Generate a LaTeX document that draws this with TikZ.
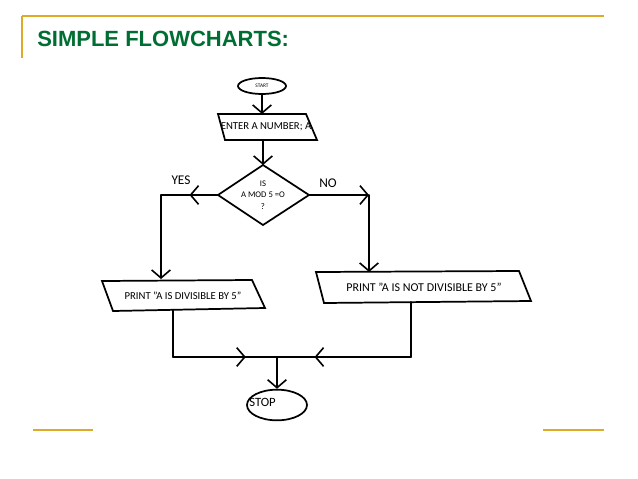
\documentclass[tikz,border=0pt]{standalone}
\usepackage{fontspec}
\setmainfont{Carlito}
\newfontfamily\titlefont{Liberation Sans}
\usetikzlibrary{arrows.meta,shapes.geometric,decorations.markings}
\definecolor{gold}{RGB}{222,170,40}
\definecolor{tgreen}{RGB}{0,110,50}
\begin{document}
\begin{tikzpicture}[x=0.75pt,y=-0.75pt,
  ln/.style={line width=1.3pt,line cap=round},
  tip/.style={-{Straight Barb[length=6pt,width=14pt,line width=1.2pt]}},
  midtip/.style={postaction={decorate},decoration={markings,mark=at position #1 with {\arrow{Straight Barb[length=6pt,width=14pt,line width=1.2pt]}}}},
  box/.style={ln,fill=white},
  txt/.style={font=\fontsize{8}{9}\selectfont,inner sep=0pt}]
\useasboundingbox (0,0) rectangle (638,478);
\fill[white] (0,0) rectangle (638,478);
% decorations
\draw[gold,line width=1pt] (22,16) -- (604,16);
\draw[gold,line width=1pt] (22,16) -- (22,58);
\draw[gold,line width=1pt] (33,430) -- (93,430);
\draw[gold,line width=1pt] (543,430) -- (604,430);
\node[anchor=west,text=tgreen,font=\titlefont\bfseries\fontsize{16.5}{18}\selectfont,inner sep=0pt] (title) at (37,39) {SIMPLE FLOWCHARTS:};
% start
\node[ellipse,draw,ln,minimum width=36pt,minimum height=12pt,inner sep=0pt,font=\fontsize{4}{5}\selectfont] (start) at (262,86) {START};
% enter box
\draw[box] (218,114) -- (306,114) -- (317,140) -- (225,140) -- cycle;
\node[txt] (enter) at (266,127) {ENTER A NUMBER; A};
\coordinate (entertop) at (262,114);
\coordinate (enterbot) at (263,140);
% diamond
\draw[box] (263,165) -- (309,195) -- (263,225) -- (218,195) -- cycle;
\node[txt,align=center,font=\fontsize{6.5}{8.5}\selectfont] (dia) at (263,195) {IS\\A MOD 5 =O\\?};
\coordinate (dtop) at (263,165);
\coordinate (dleft) at (218,195);
\coordinate (dright) at (309,195);
% left box
\draw[box] (102,281) -- (252,280) -- (265,308) -- (113,311) -- cycle;
\node[txt] (lbox) at (183,296) {PRINT "A IS DIVISIBLE BY 5"};
% right box
\draw[box] (316,272) -- (519,271) -- (531,301) -- (324,303) -- cycle;
\node[txt,font=\fontsize{9}{10}\selectfont] (rbox) at (424,287) {PRINT "A IS NOT DIVISIBLE BY 5"};
% stop
\node[ellipse,draw,ln,minimum width=45pt,minimum height=23pt,inner sep=0pt] (stop) at (277,405) {};
\node[anchor=west,inner sep=0pt,font=\fontsize{9.5}{10}\selectfont] (stoptxt) at (249,402) {STOP};
% labels
\node[font=\fontsize{10}{11}\selectfont] (yes) at (181,180) {YES};
\node[font=\fontsize{10}{11}\selectfont] (no) at (328,183) {NO};
% coordinates
\coordinate (yc) at (161,195);
\coordinate (ytop) at (161,279);
\coordinate (nc) at (369,195);
\coordinate (ntop) at (369,272);
\coordinate (lbot) at (173,310);
\coordinate (lc) at (173,357);
\coordinate (rbot) at (411,302);
\coordinate (rc) at (411,357);
\coordinate (mc) at (277,357);
\coordinate (stoptop) at (277,391);
% connectors
\draw[ln,tip] (start) -- (entertop);
\draw[ln,tip] (enterbot) -- (dtop);
\draw[ln,midtip=0.5] (dleft) -- (yc);
\draw[ln,tip] (yc) -- (ytop);
\draw[ln,tip] (dright) -- (nc);
\draw[ln,tip] (nc) -- (ntop);
\draw[ln] (lbot) -- (lc);
\draw[ln,midtip=0.7] (lc) -- (mc);
\draw[ln] (rbot) -- (rc);
\draw[ln,midtip=0.72] (rc) -- (mc);
\draw[ln,tip] (mc) -- (stop);
\end{tikzpicture}
\end{document}
